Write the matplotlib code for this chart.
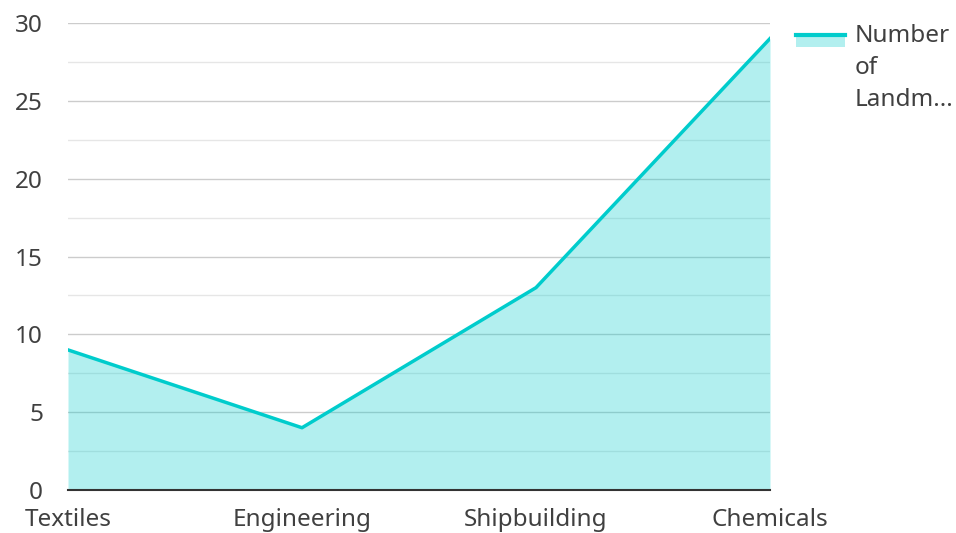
import matplotlib.pyplot as plt
from matplotlib.patches import Rectangle
from matplotlib.lines import Line2D
import numpy as np

categories = ["Textiles", "Engineering", "Shipbuilding", "Chemicals"]
landmarks = [9, 4, 13, 29]
series_label = "Number\nof\nLandm..."

line_color = "#00CCCC"
text_color = "#404040"
plt.rcParams['font.family'] = ['Noto Sans', 'DejaVu Sans']

fig = plt.figure(figsize=(9.56, 5.33), dpi=100)
ax = fig.add_axes([68 / 956, 1 - 490 / 533, (770 - 68) / 956, (490 - 23) / 533])

x = np.arange(len(categories))
ax.fill_between(x, landmarks, 0, color=line_color, alpha=0.3, linewidth=0, zorder=2)
ax.plot(x, landmarks, color=line_color, linewidth=2.5, zorder=3)

ax.set_xlim(0, len(categories) - 1)
ax.set_ylim(0, 30)
ax.set_xticks(x)
ax.set_xticklabels(categories)
ax.set_yticks(np.arange(0, 31, 5))
ax.set_yticks(np.arange(2.5, 30, 5), minor=True)
ax.grid(True, which='major', axis='y', color='#cccccc', linewidth=1, zorder=1)
ax.grid(True, which='minor', axis='y', color='#e6e6e6', linewidth=1, zorder=1)
ax.set_axisbelow(True)

for s in ['top', 'right', 'left']:
    ax.spines[s].set_visible(False)
ax.spines['bottom'].set_color('#333333')
ax.spines['bottom'].set_linewidth(1.5)
ax.spines['bottom'].set_zorder(4)
ax.tick_params(axis='both', which='both', length=0, labelsize=17.5, labelcolor=text_color)
ax.tick_params(axis='y', pad=18)
ax.tick_params(axis='x', pad=13)
for lbl in ax.get_yticklabels():
    lbl.set_horizontalalignment('right')

# legend, drawn in figure pixels
fig.add_artist(Rectangle((796 / 956, 1 - 47 / 533), 49 / 956, 12 / 533,
                         transform=fig.transFigure, color=line_color, alpha=0.3, linewidth=0))
fig.add_artist(Line2D([796 / 956, 845 / 956], [1 - 35 / 533, 1 - 35 / 533],
                      transform=fig.transFigure, color=line_color, linewidth=3))
fig.text(855 / 956, 1 - 24 / 533, series_label, ha='left', va='top',
         fontsize=17.5, color=text_color, linespacing=1.45)

fig.savefig("out.png", dpi=100)
